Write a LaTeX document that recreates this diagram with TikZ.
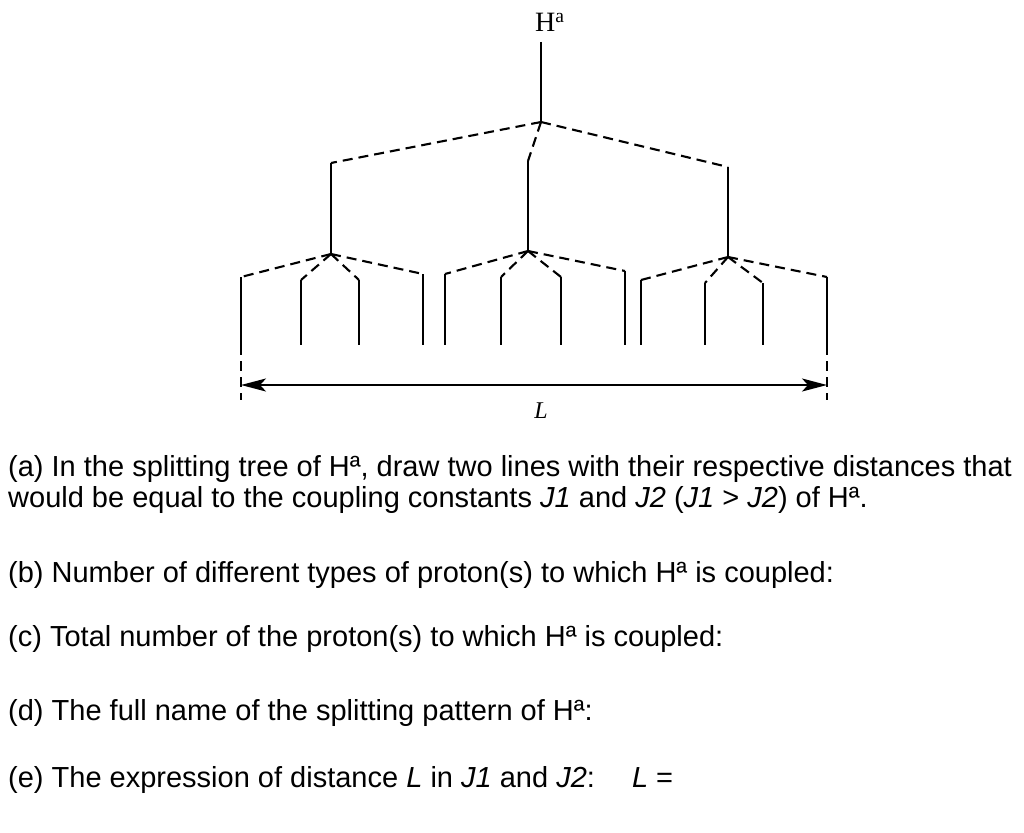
\documentclass[tikz,border=0pt]{standalone}
\usepackage{fontspec}
\setmainfont{Liberation Sans}
\newfontfamily\timesface{Liberation Serif}
\usetikzlibrary{arrows.meta}
\tikzset{
  solidleg/.style={line width=2.1pt},
  dashleg/.style={line width=2.1pt, dash pattern=on 10pt off 6pt},
  dimarrow/.style={{Stealth[length=25pt,width=13pt,inset=6pt]}-{Stealth[length=25pt,width=13pt,inset=6pt]}, line width=2.1pt},
  qtext/.style={anchor=base west, inner sep=0pt, font=\fontsize{29}{34}\selectfont},
  treelabel/.style={inner sep=0pt, font=\timesface\fontsize{28}{28}\selectfont},
}

\begin{document}
\begin{tikzpicture}[x=1pt, y=-1pt]
\useasboundingbox (0,0) rectangle (1024,832);

% ── Hª 与主干 ──────────────────────────────────────────────
\node[treelabel, anchor=base west] (ha) at (535,32) {H\textsuperscript{a}};
\coordinate (stem) at (541,42);
\coordinate (root) at (541,122);
\draw[solidleg] (stem) -- (root);

% ── 第一次分裂（三重峰） ─────────────────────────────────────
\coordinate (k1) at (331,163);
\coordinate (k2) at (528,161);
\coordinate (k3) at (728,167);
\coordinate (g1) at (331,254);
\coordinate (g2) at (528,251);
\coordinate (g3) at (728,257);
\foreach \i in {1,2,3}{
  \draw[dashleg] (root) -- (k\i);
  \draw[solidleg] (k\i) -- (g\i);
}

% ── 第二次分裂（每组四条线） ───────────────────────────────
\foreach \i/\xol/\xil/\xir/\xor in {1/-90/-30/28/92, 2/-83/-27/33/97, 3/-87/-23/35/99}{
  \foreach \j/\dx/\dy in {1/\xol/23, 2/\xil/26, 3/\xir/26, 4/\xor/20}{
    \path (g\i) ++(\dx,\dy) coordinate (g\i-\j);
    \coordinate (g\i-\j b) at (g\i-\j |- 0,345);
    \draw[dashleg] (g\i) -- (g\i-\j);
    \draw[solidleg] (g\i-\j) -- (g\i-\j b);
  }
}

% ── 距离 L ────────────────────────────────────────────────
\coordinate (lend) at (g1-1 |- 0,400);
\coordinate (rend) at (g3-4 |- 0,400);
\draw[dashleg] (g1-1b) -- (lend);
\draw[dashleg] (g3-4b) -- (rend);
\coordinate (la) at (g1-1 |- 0,385);
\coordinate (lb) at (g3-4 |- 0,385);
\draw[dimarrow] (la) -- (lb);
\node[treelabel, font=\timesface\itshape\fontsize{24}{24}\selectfont] (lab) at (541,411) {L};

% ── 题目 ──────────────────────────────────────────────────
\node[qtext] (qa1) at (8,476) {(a) In the splitting tree of Hª, draw two lines with their respective distances that};
\node[qtext] (qa2) at (8,507) {would be equal to the coupling constants \textit{J1} and \textit{J2} (\textit{J1} > \textit{J2}) of Hª.};
\node[qtext] (qb) at (8,582) {(b) Number of different types of proton(s) to which Hª is coupled:};
\node[qtext] (qc) at (8,646) {(c) Total number of the proton(s) to which Hª is coupled:};
\node[qtext] (qd) at (8,720) {(d) The full name of the splitting pattern of Hª:};
\node[qtext] (qe) at (8,787) {(e) The expression of distance \textit{L} in \textit{J1} and \textit{J2}:\quad\ \textit{L} =};

\end{tikzpicture}
\end{document}
